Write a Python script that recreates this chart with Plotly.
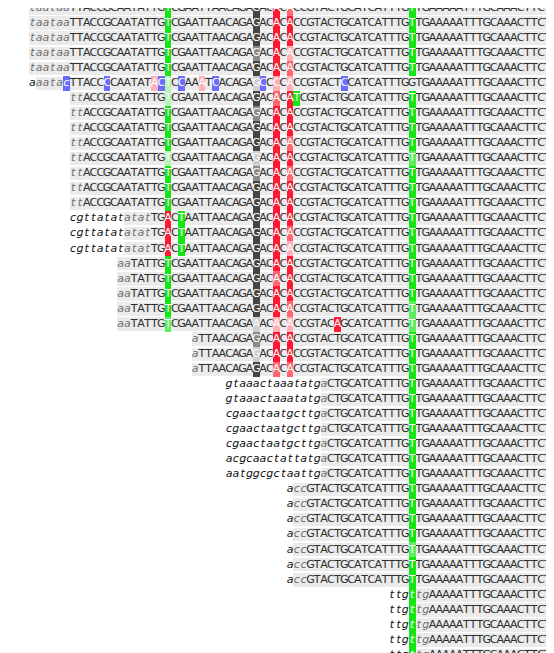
import plotly.graph_objects as go

REF = "taataaTTACCGCAATATTGTCGAATTAACAGAGACACACCGTACTGCATCATTTGTTGAAAAATTTGCAAACTTCTTC"

# per row: clip start col, clip text, aligned start col, number of lowercase aligned chars
clip_start = [0]*5 + [0] + [6]*8 + [6]*3 + [13]*5 + [24]*3 + [29]*7 + [38]*7 + [53]*5
clip_text = ([""]*5 + ["a"] + [""]*8 + ["cgttatat"]*3 + [""]*5 + [""]*3 +
             ["gtaaactaaatatg", "gtaaactaaatatg", "cgaactaatgcttg", "cgaactaatgcttg",
              "cgaactaatgcttg", "acgcaactattatg", "aatggcgctaattg"] + ["a"]*7 + ["ttg"]*5)
align_start = [0]*5 + [1] + [6]*8 + [14]*3 + [13]*5 + [24]*3 + [43]*7 + [39]*7 + [56]*5
lower_len = [6]*5 + [5] + [2]*8 + [4]*3 + [2]*5 + [1]*3 + [1]*7 + [2]*7 + [3]*5

# read bases differing from reference: (row, col, base)
mismatches = [(5, 1, "a"), (5, 2, "a"), (5, 3, "t"), (5, 4, "a"), (5, 5, "c"), (5, 11, "C"), (5, 18, "A"),
              (5, 19, "C"), (5, 22, "C"), (5, 25, "A"), (5, 27, "C"), (5, 34, "C"), (5, 36, "C"),
              (5, 46, "C"), (5, 56, "G"), (6, 39, "T"),
              (14, 14, "a"), (14, 15, "t"), (14, 16, "a"), (14, 17, "t"), (14, 20, "A"), (14, 22, "T"),
              (15, 14, "a"), (15, 15, "t"), (15, 16, "a"), (15, 17, "t"), (15, 20, "A"), (15, 22, "T"),
              (16, 14, "a"), (16, 15, "t"), (16, 16, "a"), (16, 17, "t"), (16, 20, "A"), (16, 22, "T"),
              (21, 33, "A"), (21, 45, "A")]

# highlighted columns and per-row intensity levels (0 none, 1 light, 2 medium, 3 full)
hl_cols = {20: "green", 33: "gray", 36: "red", 38: "red", 56: "green"}
hl_levels = {
    20: "33333" + "1" + "13331333" + "000" + "33332" + "000" + "0"*7 + "0"*7 + "0"*5,
    33: "33323" + "1" + "32331233" + "333" + "33331" + "213" + "0"*7 + "0"*7 + "0"*5,
    36: "33333" + "1" + "23333333" + "333" + "32331" + "332" + "0"*7 + "0"*7 + "0"*5,
    38: "23312" + "1" + "33323233" + "321" + "33321" + "332" + "0"*7 + "0"*7 + "0"*5,
    56: "33333" + "0" + "33332333" + "333" + "33322" + "333" + "3"*7 + "3333233" + "33333",
}
extra_hl = [(5, 5, "blue", 3), (5, 11, "blue", 3), (5, 18, "red", 1), (5, 19, "blue", 3),
            (5, 22, "blue", 3), (5, 25, "red", 1), (5, 27, "blue", 3), (5, 34, "blue", 3),
            (5, 46, "blue", 3), (6, 39, "green", 3),
            (14, 20, "red", 3), (14, 22, "green", 3), (15, 20, "red", 3), (15, 22, "green", 3),
            (16, 20, "red", 3), (16, 22, "green", 3), (21, 45, "red", 3)]

PAL = {"green": {3: "#14e614", 2: "#5cee5c", 1: "#b5f5b5"},
       "red": {3: "#ff1a33", 2: "#ff6672", 1: "#ffb0b6"},
       "gray": {3: "#454545", 2: "#8a8a8a", 1: "#cfcfcf"},
       "blue": {3: "#6b6bff", 2: "#9a9aff", 1: "#c8c8ff"}}

NCOL = len(REF)
nrows = len(clip_start)
mm = {(r, c): b for r, c, b in mismatches}

extra_pos = {(e[0], e[1]) for e in extra_hl}
cells = []
for (r, c, k, l) in extra_hl:
    cells.append((r, c, PAL[k][l]))
for c, kind in hl_cols.items():
    for r, ch in enumerate(hl_levels[c]):
        l = int(ch)
        if l and (r, c) not in extra_pos:
            cells.append((r, c, PAL[kind][l]))
hl_set = {(r, c) for r, c, _ in cells}

fig = go.Figure()
fig.add_trace(go.Bar(orientation="h", y=list(range(nrows)),
                     x=[NCOL + 5 - s for s in align_start],
                     base=[s - 0.5 for s in align_start], width=0.88,
                     marker=dict(color="#ebebeb", line_width=0), hoverinfo="skip"))
fig.add_trace(go.Bar(orientation="h", y=[c[0] for c in cells], x=[1]*len(cells),
                     base=[c[1] - 0.5 for c in cells], width=1.0,
                     marker=dict(color=[c[2] for c in cells], line_width=0), hoverinfo="skip"))

groups = {}
def add(key, x, y, t):
    g = groups.setdefault(key, ([], [], []))
    g[0].append(x); g[1].append(y); g[2].append(t)

for r in range(nrows):
    for i, ch in enumerate(clip_text[r]):
        add(("#111111", True), clip_start[r] + i, r, ch)
    for c in range(align_start[r], NCOL):
        b = mm.get((r, c), REF[c])
        if c < align_start[r] + lower_len[r]:
            b = b.lower()
        italic = b.islower()
        if (r, c) in hl_set:
            col = "#ffffff"
        else:
            col = "#6e6e6e" if italic else "#2e2e2e"
        add((col, italic), c, r, b)

for (col, italic), (xs, ys, ts) in groups.items():
    fig.add_trace(go.Scatter(x=xs, y=ys, text=ts, mode="text", hoverinfo="skip",
                             textfont=dict(family="DejaVu Sans", size=11, color=col,
                                           style="italic" if italic else "normal")))

fig.update_layout(width=554, height=653, margin=dict(l=0, r=0, t=0, b=0),
                  plot_bgcolor="white", paper_bgcolor="white", showlegend=False,
                  barmode="overlay", bargap=0)
fig.update_xaxes(range=[-3.6, 78.1], visible=False, fixedrange=True)
fig.update_yaxes(range=[43.39, 0], visible=False, fixedrange=True)
fig.write_html("out.html")
